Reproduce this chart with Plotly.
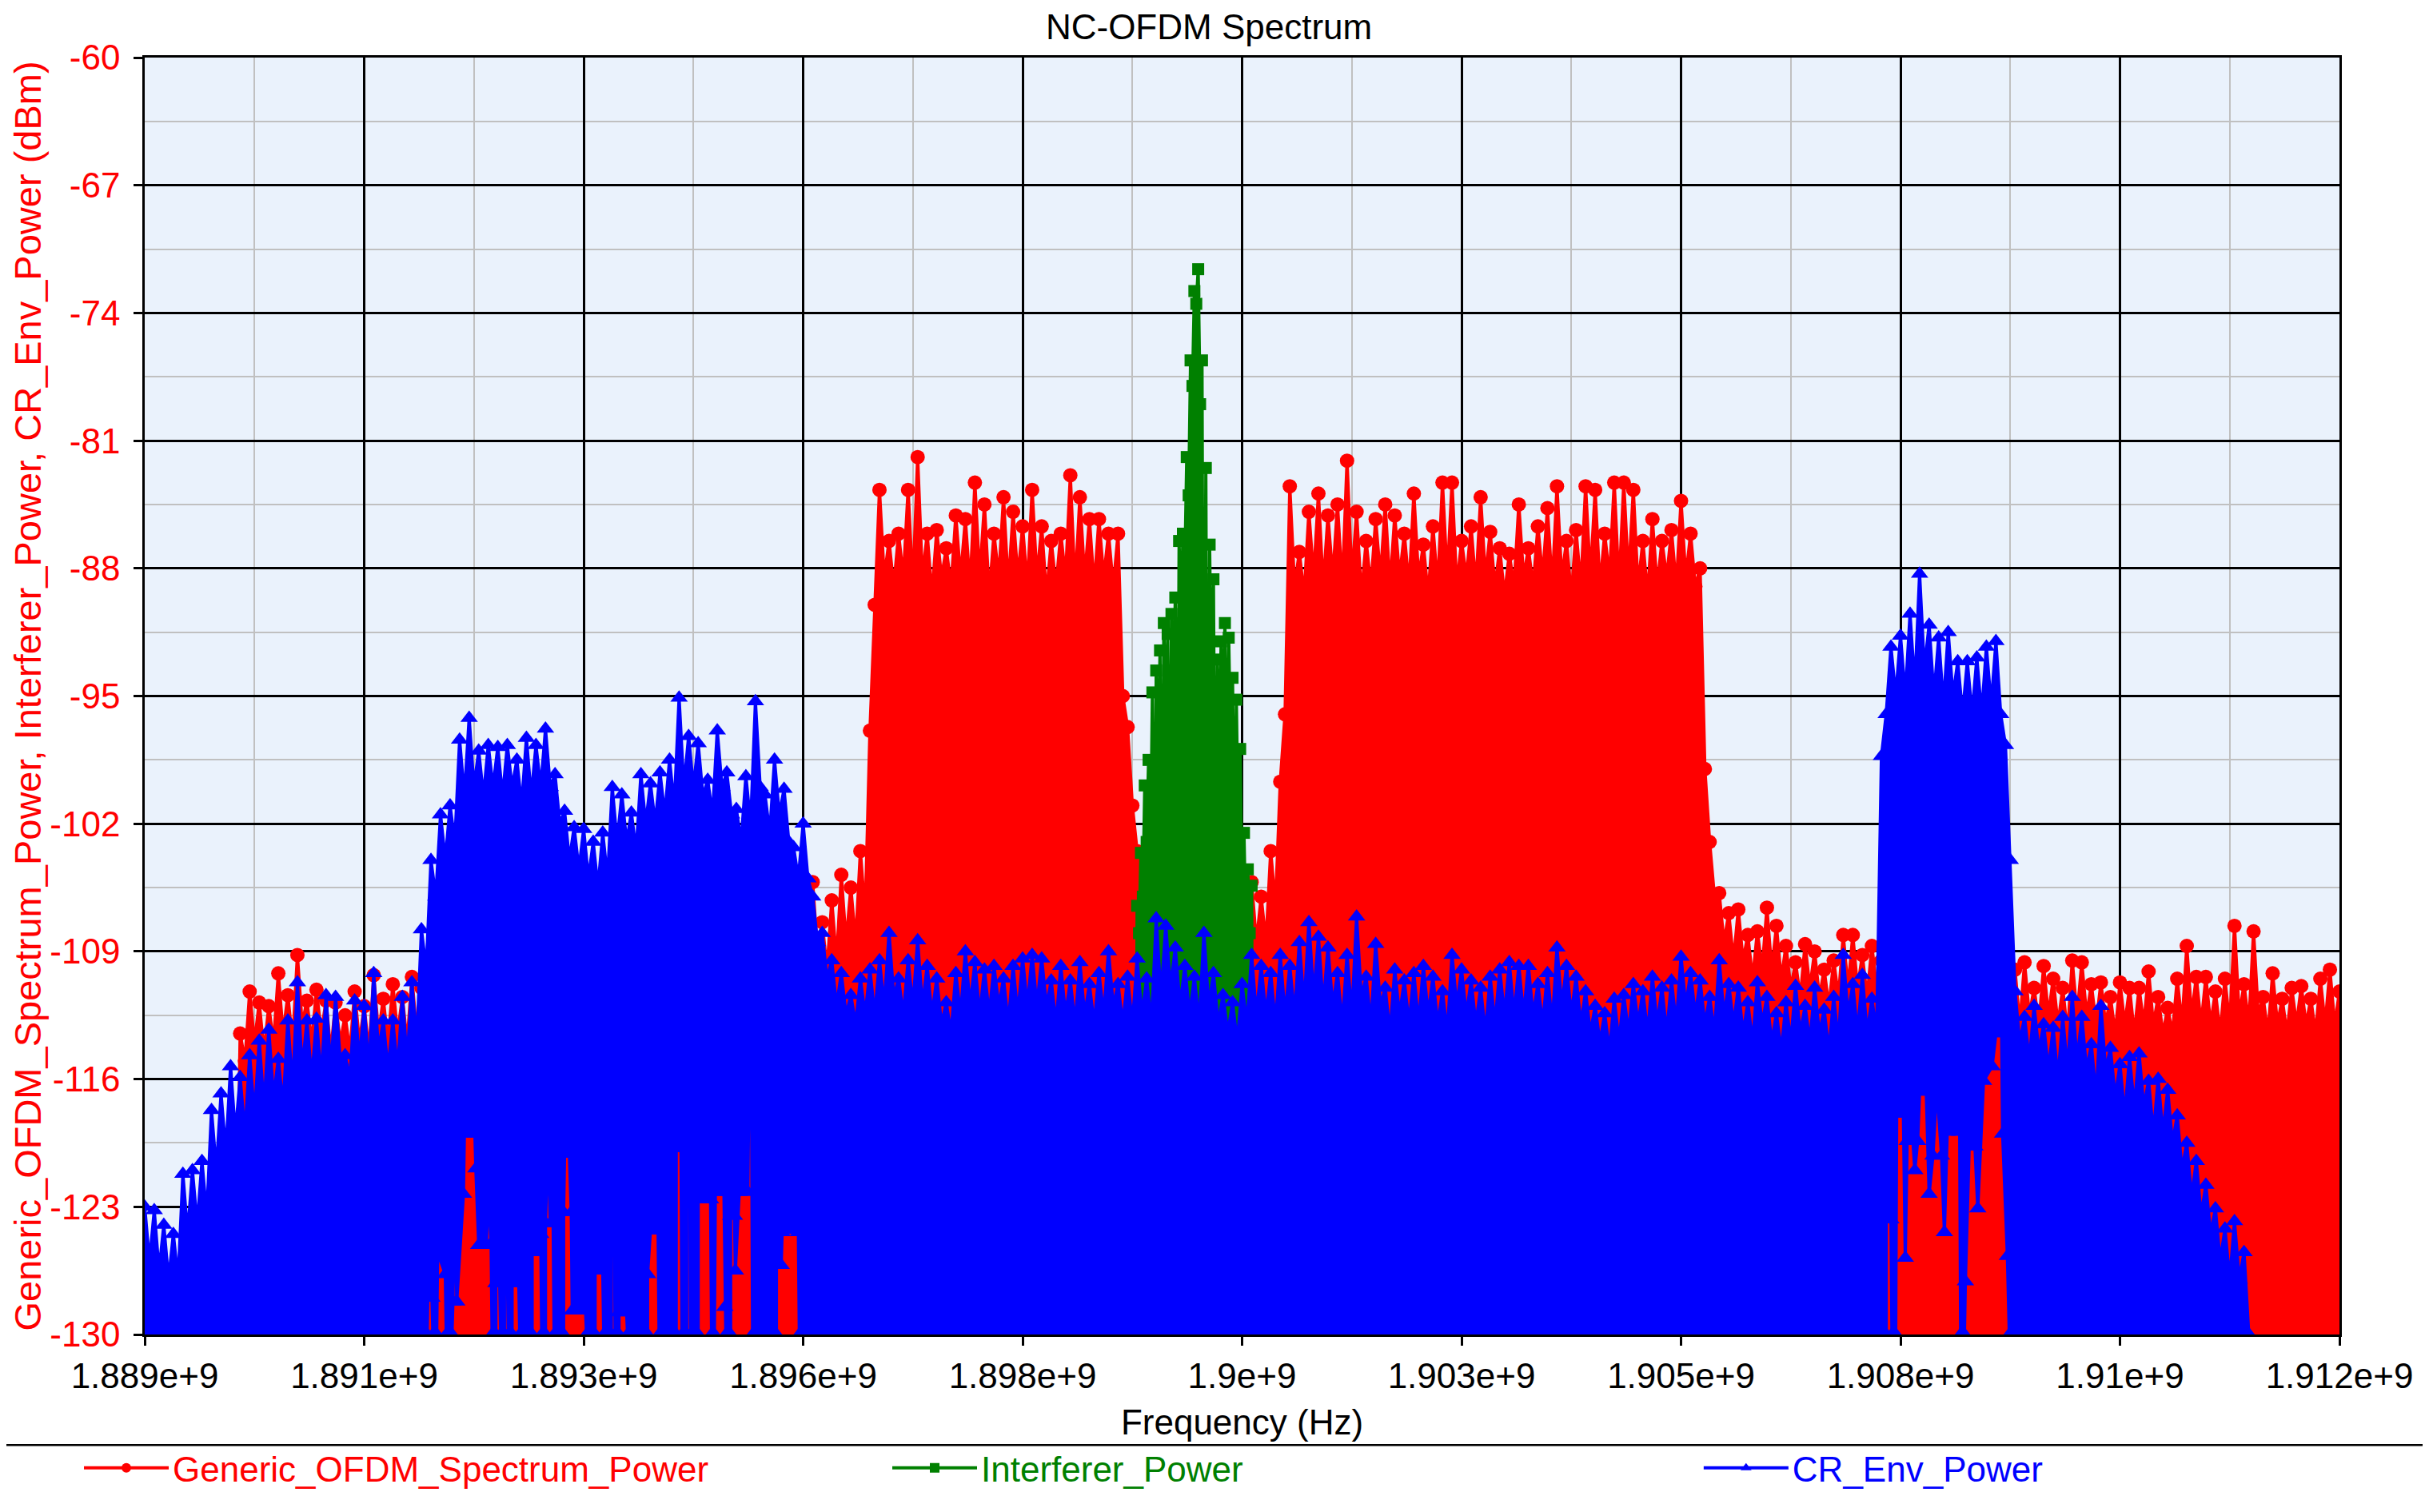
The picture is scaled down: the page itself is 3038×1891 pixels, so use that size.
import plotly.graph_objects as go

# Spectrum samples (MHz / dBm).
# Each series: a peak every bin, a trough half a bin later.
red_start_mhz = 1889.9
red_peak_db = [
    -130.0,
    -113.5, -111.2, -111.8, -112.0, -110.2, -111.4, -109.2, -111.7, -111.1, -111.7,  # 1890
    -111.8, -112.5, -111.2, -112.0, -110.3, -111.6, -110.8, -111.5, -110.4, -111.0,  # 1891
    -111.0, -110.5, -112.0, -110.8, -111.5, -110.2, -111.8, -110.6, -111.3, -110.9,  # 1892
    -110.4, -111.6, -110.9, -112.1, -110.7, -111.2, -110.1, -111.9, -110.6, -111.4,  # 1893
    -110.8, -111.5, -110.3, -111.7, -110.9, -110.5, -111.8, -110.2, -111.1, -110.6,  # 1894
    -110.9, -111.3, -110.4, -111.0, -110.2, -109.8, -109.5, -108.8, -107.5, -106.5,  # 1895
    -105.2, -107.4, -106.2, -104.8, -105.5, -103.5, -96.9, -83.7, -86.5, -86.1,  # 1896
    -83.7, -81.9, -86.1, -85.9, -86.9, -85.1, -85.3, -83.3, -84.5, -86.1,  # 1897
    -84.1, -84.9, -85.7, -83.7, -85.7, -86.5, -86.1, -82.9, -84.1, -85.3,  # 1898
    -85.3, -86.1, -86.1, -96.7, -103.5, -104.0, -106.0, -106.5, -105.5, -106.0,  # 1899
    -106.5, -105.5, -106.0, -106.5, -105.8, -105.5, -105.2, -106.0, -103.5, -99.7,  # 1900
    -83.5, -87.1, -84.9, -83.9, -85.1, -84.5, -82.1, -84.9, -86.5, -85.3,  # 1901
    -84.5, -85.1, -86.1, -83.9, -86.7, -85.7, -83.3, -83.3, -86.5, -85.7,  # 1902
    -84.1, -86.0, -86.9, -87.2, -84.5, -86.9, -85.7, -84.7, -83.5, -86.5,  # 1903
    -85.9, -83.5, -83.7, -86.1, -83.3, -83.3, -83.7, -86.5, -85.3, -86.5,  # 1904
    -85.9, -84.3, -86.1, -88.0, -103.0, -105.8, -106.9, -106.7, -108.1, -107.9,  # 1905
    -106.6, -107.6, -108.7, -109.6, -108.6, -109.0, -110.0, -109.5, -108.1, -108.1,  # 1906
    -109.2, -108.7, -109.5, -110.0, -110.5, -109.8, -110.2, -111.0, -110.4, -109.9,  # 1907
    -110.6, -110.2, -110.8, -111.2, -110.5, -110.5, -110.0, -109.6, -111.0, -109.8,  # 1908
    -110.5, -111.0, -109.5, -109.6, -110.8, -110.7, -111.5, -110.7, -111.0, -111.0,  # 1909
    -110.1, -111.5, -112.1, -110.5, -108.7, -110.4, -110.4, -111.2, -110.5, -107.6,  # 1910
    -110.8, -107.9, -111.5, -110.2, -111.6, -111.0, -110.9, -111.6, -110.5, -110.0,  # 1911
    -111.2,
]
red_trough_db = [
    -130.0,
    -115.0, -114.0, -114.5, -114.0, -113.5, -114.0, -113.0, -114.0, -113.5, -114.5,
    -114.0, -114.5, -114.0, -114.5, -113.5, -114.0, -113.5, -114.0, -113.5, -114.0,
    -114.0, -113.5, -114.5, -114.0, -114.0, -113.5, -114.5, -114.0, -114.0, -113.5,
    -113.5, -114.0, -114.0, -114.5, -113.5, -114.0, -113.5, -114.5, -113.5, -114.0,
    -114.0, -114.0, -113.5, -114.5, -114.0, -113.5, -114.5, -113.5, -114.0, -113.5,
    -114.0, -114.0, -113.5, -114.0, -113.5, -113.0, -113.0, -112.0, -111.0, -110.0,
    -109.0, -110.0, -109.5, -108.5, -108.5, -107.0, -90.0, -88.5, -89.0, -88.5,
    -89.0, -88.5, -89.5, -88.5, -89.0, -88.5, -89.0, -88.5, -89.5, -88.5,
    -89.0, -88.5, -89.0, -88.5, -89.5, -89.0, -88.5, -89.0, -88.5, -89.0,
    -88.5, -89.0, -95.0, -101.0, -106.0, -108.0, -109.0, -109.5, -109.0, -109.5,
    -109.0, -109.5, -109.0, -109.5, -109.0, -108.5, -108.5, -108.5, -106.5, -96.0,
    -89.0, -89.5, -88.5, -89.0, -88.5, -89.0, -88.5, -89.5, -89.0, -88.5,
    -89.0, -88.5, -89.0, -88.5, -89.5, -89.0, -88.5, -89.0, -88.5, -89.0,
    -88.5, -89.0, -89.5, -89.0, -88.5, -89.0, -88.5, -89.0, -88.5, -89.5,
    -89.0, -88.5, -89.0, -88.5, -89.0, -88.5, -89.0, -89.5, -89.0, -88.5,
    -89.0, -88.5, -89.0, -99.0, -106.0, -108.5, -109.5, -109.5, -110.5, -110.0,
    -110.0, -110.5, -111.0, -111.5, -111.0, -111.5, -112.0, -111.5, -111.0, -111.0,
    -111.5, -111.0, -112.0, -112.5, -112.5, -112.0, -112.5, -113.0, -112.5, -112.0,
    -113.0, -112.5, -113.0, -113.0, -112.5, -113.0, -113.0, -112.5, -113.0, -112.5,
    -113.0, -113.5, -112.5, -112.5, -113.0, -113.0, -113.5, -113.0, -113.5, -113.0,
    -113.0, -113.5, -113.5, -113.0, -112.5, -113.0, -113.0, -113.5, -113.0, -112.5,
    -113.0, -112.5, -113.5, -113.0, -113.5, -113.0, -113.0, -113.5, -113.0, -113.0,
    -130.0,
]

green_start_mhz = 1899.36
green_peak_db = [
    -130.0, -106.5, -103.6, -99.9, -98.5, -94.8, -93.6, -92.5, -91.0, -91.6, -90.5,
    -89.6, -86.5, -86.1, -81.9, -76.6, -72.8, -71.6, -76.6, -82.5, -86.7, -88.6,
    -93.0, -92.0, -91.0, -91.8, -94.0, -95.2, -97.9, -102.5, -104.5, -105.4,
]
green_trough_db = [
    -130.0, -108.0, -106.0, -103.0, -104.0, -108.0, -99.0, -108.0, -97.0, -105.0, -95.0,
    -108.0, -91.0, -88.0, -84.0, -78.0, -73.5, -79.0, -110.0, -110.0, -96.0, -109.0,
    -99.0, -97.0, -101.0, -98.0, -104.0, -103.0, -106.0, -108.0, -108.0, -130.0,
]

blue_start_mhz = 1889.0
blue_peak_db = [
    -123.0, -123.2, -124.0, -124.5, -121.2, -121.0, -120.5, -117.7, -116.8, -115.3,  # 1889
    -115.9, -114.7, -113.9, -113.3, -114.9, -112.8, -110.7, -112.8, -112.7, -111.4,  # 1890
    -111.5, -114.7, -111.7, -112.0, -110.2, -112.8, -112.8, -111.5, -110.7, -107.8,  # 1891
    -104.0, -101.5, -101.0, -97.4, -96.2, -98.0, -97.7, -97.8, -97.7, -98.5,  # 1892
    -97.3, -97.7, -96.8, -99.3, -101.3, -102.2, -102.3, -103.0, -102.5, -100.0,  # 1893
    -100.4, -101.4, -99.3, -99.8, -99.2, -98.5, -95.1, -97.2, -97.6, -99.6,  # 1894
    -96.9, -99.2, -101.2, -99.4, -95.3, -100.4, -98.5, -100.1, -103.3, -102.0,  # 1895
    -106.0, -108.0, -109.5, -110.2, -111.4, -110.5, -110.0, -109.5, -108.0, -110.5,  # 1896
    -109.5, -108.4, -109.8, -110.5, -111.8, -110.2, -109.0, -109.6, -110.0, -109.8,  # 1897
    -110.5, -109.8, -109.4, -109.2, -109.4, -110.6, -109.8, -110.6, -109.6, -110.8,  # 1898
    -110.2, -109.0, -110.8, -110.4, -109.4, -110.5, -107.2, -107.6, -108.8, -109.8,  # 1899
    -110.4, -108.0, -110.2, -111.4, -111.8, -110.8, -109.2, -109.8, -110.2, -109.2,  # 1900
    -109.8, -108.5, -107.4, -108.2, -108.8, -110.2, -109.2, -107.1, -110.4, -108.6,  # 1901
    -111.0, -110.0, -110.6, -110.2, -109.8, -110.4, -111.2, -109.2, -110.0, -110.6,  # 1902
    -111.0, -110.4, -110.0, -109.6, -109.8, -109.8, -110.8, -110.2, -108.8, -109.8,  # 1903
    -110.4, -111.2, -112.0, -112.4, -111.6, -111.4, -110.8, -111.2, -110.4, -111.0,  # 1904
    -110.6, -109.3, -110.2, -110.6, -111.5, -109.5, -110.8, -111.0, -111.8, -110.7,  # 1905
    -111.5, -112.4, -111.8, -110.9, -112.0, -111.0, -112.2, -111.5, -109.2, -110.8,  # 1906
    -110.3, -111.6, -98.3, -92.3, -91.7, -90.5, -88.3, -91.1, -91.8, -91.5,  # 1907
    -93.1, -93.1, -92.9, -92.3, -92.0, -97.7, -111.2, -112.6, -112.0, -113.0,  # 1908
    -113.2, -112.6, -111.5, -112.6, -114.1, -112.0, -114.3, -115.2, -114.8, -114.6,  # 1909
    -116.1, -116.0, -116.6, -118.0, -119.5, -120.5, -121.8, -123.1, -124.2, -123.8,  # 1910
    -125.5,
]
blue_trough_db = [
    -126.0, -126.5, -127.0, -127.0, -124.5, -124.0, -123.5, -121.0, -120.0, -119.0,
    -119.0, -118.0, -117.5, -117.0, -117.5, -116.5, -115.5, -116.0, -116.0, -115.5,
    -115.0, -116.0, -115.0, -115.5, -114.5, -115.5, -115.5, -115.0, -114.0, -110.0,
    -106.0, -104.0, -103.0, -100.5, -100.0, -100.5, -100.0, -100.5, -100.0, -101.0,
    -100.5, -100.0, -100.0, -102.0, -104.0, -104.5, -105.0, -105.5, -105.0, -103.0,
    -103.0, -103.5, -102.0, -102.0, -101.5, -101.0, -100.0, -100.0, -100.5, -101.5,
    -100.0, -101.5, -103.0, -102.0, -100.0, -102.5, -101.5, -103.0, -105.0, -105.0,
    -108.5, -110.5, -112.0, -112.5, -113.0, -112.5, -112.5, -112.0, -111.5, -112.5,
    -112.0, -112.0, -112.5, -113.0, -113.5, -112.5, -112.0, -112.5, -112.5, -112.0,
    -113.0, -112.5, -112.0, -112.0, -112.0, -113.0, -112.5, -113.0, -112.5, -113.0,
    -112.5, -112.0, -113.0, -113.0, -112.5, -113.0, -111.5, -111.0, -112.0, -112.5,
    -113.0, -112.0, -113.0, -113.5, -114.0, -113.0, -112.5, -112.5, -113.0, -112.5,
    -112.5, -112.0, -111.5, -112.0, -112.0, -113.0, -112.5, -111.5, -113.0, -112.0,
    -113.5, -112.5, -113.0, -113.0, -112.5, -113.0, -113.5, -112.0, -112.5, -113.0,
    -113.5, -113.0, -112.5, -112.5, -112.5, -112.5, -113.0, -113.0, -112.0, -112.5,
    -113.0, -113.5, -114.0, -114.5, -114.0, -113.5, -113.0, -113.5, -113.0, -113.5,
    -113.0, -112.0, -112.5, -113.0, -113.5, -112.5, -113.0, -113.5, -114.0, -113.0,
    -114.0, -114.5, -114.0, -113.5, -114.0, -113.5, -114.5, -114.0, -112.5, -113.5,
    -113.5, -113.5, -96.0, -95.0, -95.0, -94.5, -93.5, -95.0, -95.5, -95.0,
    -96.0, -96.0, -96.0, -95.5, -96.0, -104.0, -114.0, -115.0, -114.5, -115.5,
    -116.0, -115.5, -115.0, -115.5, -117.0, -115.5, -117.0, -118.0, -117.5, -117.5,
    -119.0, -119.0, -119.5, -121.0, -122.5, -123.5, -124.5, -126.0, -127.0, -127.0,
    -130.0,
]

# lower edge of the blue mass (where the red shows through underneath)
blue_floor_mhz = [
    1889.0,
    1891.96, 1891.97, 1892.01, 1892.02, 1892.06, 1892.07, 1892.15, 1892.16,
    1892.22, 1892.23, 1892.25, 1892.27, 1892.34, 1892.35, 1892.46, 1892.47,
    1892.50, 1892.58, 1892.60, 1892.63, 1892.64,
    1892.68, 1892.68, 1892.72, 1892.73, 1892.77, 1892.77, 1892.80, 1892.81,
    1892.85, 1892.85, 1892.92, 1892.93,
    1893.06, 1893.06, 1893.12, 1893.13, 1893.15, 1893.16,
    1893.20, 1893.20, 1893.21, 1893.24, 1893.25, 1893.28, 1893.29,
    1893.39, 1893.39, 1893.40, 1893.45, 1893.47, 1893.48, 1893.62, 1893.63,
    1893.72, 1893.72, 1893.80, 1893.81, 1893.89, 1893.89, 1893.92, 1893.93,
    1893.97, 1893.97, 1894.05, 1894.06,
    1894.27, 1894.27, 1894.30, 1894.38, 1894.39,
    1894.57, 1894.57, 1894.62, 1894.63, 1894.68, 1894.68, 1894.71, 1894.72,
    1894.80, 1894.80, 1894.93, 1894.94, 1894.97, 1894.98, 1895.07, 1895.08, 1895.09,
    1895.14, 1895.14, 1895.18, 1895.19, 1895.23, 1895.32, 1895.33, 1895.36, 1895.37,
    1895.62, 1895.62, 1895.67, 1895.68, 1895.85, 1895.86,
    1907.22, 1907.25, 1907.25, 1907.30, 1907.31, 1907.35, 1907.36, 1907.43,
    1907.45, 1907.47, 1907.53, 1907.55, 1907.58, 1907.60, 1907.67, 1907.70,
    1907.74, 1907.78, 1907.83, 1907.86, 1907.89, 1908.02, 1908.03, 1908.07,
    1908.08, 1908.12, 1908.18, 1908.21, 1908.27, 1908.36, 1908.40, 1908.46,
    1908.47, 1908.52, 1908.54,
    1911.05,
]
blue_floor_db = [
    -130.0,
    -130.0, -127.0, -128.0, -130.0, -130.0, -125.5, -126.7, -130.0,
    -130.0, -128.2, -121.6, -128.2, -122.3, -119.0, -119.0, -120.9,
    -125.1, -125.1, -122.0, -125.0, -130.0,
    -130.0, -127.2, -127.2, -130.0, -130.0, -126.6, -126.6, -130.0,
    -130.0, -127.2, -127.2, -130.0,
    -130.0, -125.5, -125.5, -124.5, -124.5, -130.0,
    -130.0, -123.9, -122.0, -122.0, -123.9, -123.9, -130.0,
    -130.0, -123.3, -120.1, -120.1, -123.3, -128.7, -128.7, -130.0,
    -130.0, -126.5, -126.5, -130.0, -130.0, -123.2, -123.2, -130.0,
    -130.0, -128.8, -128.8, -130.0,
    -130.0, -126.7, -124.3, -124.3, -130.0,
    -130.0, -119.8, -119.8, -130.0, -130.0, -118.8, -118.8, -130.0,
    -130.0, -122.6, -122.6, -130.0, -130.0, -122.2, -122.2, -128.5, -130.0,
    -130.0, -123.5, -123.5, -126.5, -122.2, -122.2, -117.5, -117.5, -130.0,
    -130.0, -126.2, -126.2, -124.4, -124.4, -130.0,
    -130.0, -130.0, -123.7, -123.7, -130.0, -130.0, -117.9, -117.9,
    -125.8, -119.4, -119.4, -121.0, -119.4, -116.7, -116.7, -122.3,
    -120.2, -116.4, -120.2, -124.4, -118.9, -118.9, -130.0, -130.0,
    -127.1, -119.7, -119.7, -123.1, -116.1, -115.3, -113.5, -113.5,
    -119.0, -125.7, -130.0,
    -130.0,
]

x_tick_labels = ["1.889e+9", "1.891e+9", "1.893e+9", "1.896e+9", "1.898e+9", "1.9e+9",
                 "1.903e+9", "1.905e+9", "1.908e+9", "1.91e+9", "1.912e+9"]
y_tick_values = [-130, -123, -116, -109, -102, -95, -88, -81, -74, -67, -60]

RED = "#FF0000"
GREEN = "#008000"
BLUE = "#0000FF"


def zigzag(start_mhz, bin_mhz, peaks, troughs):
    """peak at the start of each bin, trough half a bin later; returns Hz / dBm"""
    x, y = [], []
    for k, (p, t) in enumerate(zip(peaks, troughs)):
        f = start_mhz + k * bin_mhz
        x += [round(f * 1e6), round((f + bin_mhz / 2) * 1e6)]
        y += [p, t]
    return x, y


def series(x, y, color, symbol, size, **kw):
    return go.Scatter(
        x=x, y=y, mode="lines+markers",
        line=dict(color=color, width=4),
        marker=dict(color=color, symbol=symbol, size=size),
        fillcolor=color, showlegend=False, hoverinfo="skip", **kw,
    )


red_x, red_y = zigzag(red_start_mhz, 0.1, red_peak_db, red_trough_db)
green_x, green_y = zigzag(green_start_mhz, 0.04, green_peak_db, green_trough_db)
blue_x, blue_y = zigzag(blue_start_mhz, 0.1, blue_peak_db, blue_trough_db)
floor_x = [round(f * 1e6) for f in blue_floor_mhz]

fig = go.Figure()
fig.add_trace(series(red_x, red_y, RED, "circle", 18, fill="toself"))
fig.add_trace(series(green_x, green_y, GREEN, "square", 15, fill="toself"))
fig.add_trace(series(blue_x, blue_y, BLUE, "triangle-up", 19))
fig.add_trace(series(floor_x, blue_floor_db, BLUE, "triangle-up", 19, fill="tonexty"))

# legend entries (line + marker only, no fill swatch), one legend box each
legend_items = [("Generic_OFDM_Spectrum_Power", RED, "circle", "legend"),
                ("Interferer_Power", GREEN, "square", "legend2"),
                ("CR_Env_Power", BLUE, "triangle-up", "legend3")]
for name, color, symbol, leg in legend_items:
    fig.add_trace(go.Scatter(
        x=[None], y=[None], mode="lines+markers", legend=leg,
        name=f"<span style='color:{color}'>{name}</span>",
        line=dict(color=color, width=4),
        marker=dict(color=color, symbol=symbol, size=12),
    ))

x_ticks = [1.889e9 + k * 2.3e6 for k in range(len(x_tick_labels))]

# page has an 8px body margin, so the figure is drawn 8px smaller and shifted
W, H = 3022, 1875
leg_style = dict(orientation="h", y=-0.1046, xanchor="left", yanchor="middle",
                 font=dict(size=44), itemwidth=106, bgcolor="rgba(0,0,0,0)")

fig.update_layout(
    width=W, height=H,
    margin=dict(l=173, r=101, t=64, b=192),
    paper_bgcolor="white", plot_bgcolor="#EAF2FC",
    font=dict(family="Liberation Sans, Arial, sans-serif", size=44, color="black"),
    title=dict(text="NC-OFDM Spectrum", x=0.4977, xref="container", xanchor="center",
               y=1 - 26 / H, yref="container", yanchor="middle",
               font=dict(size=44, color="black")),
    legend=dict(x=-0.0295, **leg_style),
    legend2=dict(x=0.3388, **leg_style),
    legend3=dict(x=0.7085, **leg_style),
    shapes=[dict(type="line", xref="paper", yref="paper", x0=-0.07, x1=1.04,
                 y0=-0.0865, y1=-0.0865, line=dict(color="black", width=2.5))],
)
fig.update_xaxes(
    range=[1.889e9, 1.912e9], tickmode="array", tickvals=x_ticks, ticktext=x_tick_labels,
    ticks="outside", ticklen=11, tickwidth=2.5, tickcolor="black",
    showline=True, linecolor="black", linewidth=2.5, mirror=True, zeroline=False,
    showgrid=True, gridcolor="black", gridwidth=2.5,
    minor=dict(tick0=1.889e9, dtick=1.15e6, showgrid=True, gridcolor="#C0C0C0", gridwidth=2),
    tickfont=dict(size=44, color="black"),
    title=dict(text="Frequency (Hz)", font=dict(size=44, color="black"), standoff=20),
)
fig.update_yaxes(
    range=[-130, -60], tickmode="array", tickvals=y_tick_values,
    ticktext=[str(v) for v in y_tick_values],
    ticks="outside", ticklen=11, tickwidth=2.5, tickcolor="black", ticklabelstandoff=8,
    showline=True, linecolor="black", linewidth=2.5, mirror=True, zeroline=False,
    showgrid=True, gridcolor="black", gridwidth=2.5,
    minor=dict(tick0=-130, dtick=3.5, showgrid=True, gridcolor="#C0C0C0", gridwidth=2),
    tickfont=dict(size=44, color=RED),
    title=dict(text="Generic_OFDM_Spectrum_Power, Interferer_Power, CR_Env_Power (dBm)",
               font=dict(size=47, color=RED), standoff=0),
)

fig.write_html("out.html")
